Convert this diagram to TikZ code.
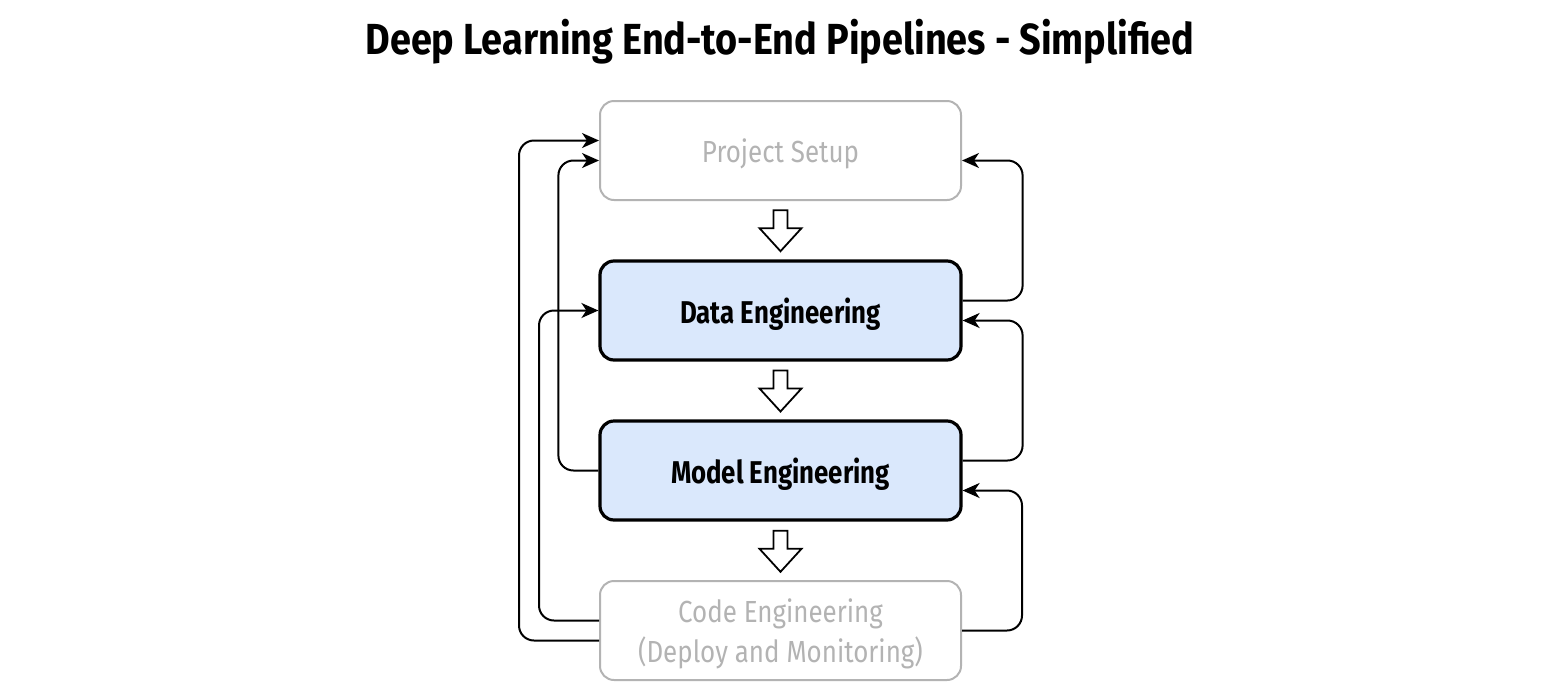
\documentclass[tikz,border=0pt]{standalone}
\usepackage{fontspec}
\setmainfont{Fira Sans}[FakeStretch=0.85]
\newfontfamily\titlefont{Fira Sans}[FakeStretch=0.87]
\newfontfamily\boxboldfont{Fira Sans}[FakeStretch=0.82]
\usetikzlibrary{arrows.meta,calc}
\definecolor{grayc}{HTML}{B3B3B3}
\definecolor{bluef}{HTML}{DAE8FC}
\begin{document}
\begin{tikzpicture}[x=1pt,y=-1pt,
  box/.style={rectangle, rounded corners=14pt, minimum width=361pt, minimum height=99pt, align=center, inner sep=0pt, text depth=0pt},
  greybox/.style={box, draw=grayc, line width=2pt, text=grayc, font=\fontsize{30.5}{40}\selectfont},
  bluebox/.style={box, draw=black, fill=bluef, line width=3.2pt, font=\boxboldfont\fontsize{31.5}{40}\selectfont\bfseries},
  conn/.style={draw=black, line width=2pt, rounded corners=15pt, -{Stealth[length=17pt,width=15pt,inset=5pt]}},
  blockarrow/.pic={\draw[line width=1.8pt, fill=white, line join=miter] (-7,-20) -- (7,-20) -- (7,-2) -- (21,-2) -- (0,21) -- (-21,-2) -- (-7,-2) -- cycle;}
]
\useasboundingbox (0,0) rectangle (1564,694);
\node[anchor=base, font=\titlefont\fontsize{43.5}{50}\selectfont\bfseries] (title) at (780,54) {Deep Learning End-to-End Pipelines - Simplified};

\node[greybox] (proj) at (780.5,150.5) {Project Setup};
\node[bluebox] (data) at (780.5,310.5) {Data Engineering};
\node[bluebox] (model) at (780.5,470.5) {Model Engineering};
\node[greybox] (code) at (780.5,630.5) {Code Engineering\\(Deploy and Monitoring)};

\path (proj.south) -- (data.north) coordinate[pos=0.5] (m1);
\path (data.south) -- (model.north) coordinate[pos=0.5] (m2);
\path (model.south) -- (code.north) coordinate[pos=0.5] (m3);
\pic at (m1) {blockarrow};
\pic at (m2) {blockarrow};
\pic at (m3) {blockarrow};

\draw[conn] ([yshift=-10pt]code.west) -- ++(-80,0) |- ([yshift=10pt]proj.west);
\draw[conn] ([yshift=10pt]code.west) -- ++(-60,0) |- (data.west);
\draw[conn] (model.west) -- ++(-40,0) |- ([yshift=-10pt]proj.west);
\draw[conn] ([yshift=10pt]data.east) -- ++(60,0) |- ([yshift=-10pt]proj.east);
\draw[conn] ([yshift=10pt]model.east) -- ++(60,0) |- ([yshift=-10pt]data.east);
\draw[conn] (code.east) -- ++(60,0) |- ([yshift=-20pt]model.east);
\end{tikzpicture}
\end{document}
